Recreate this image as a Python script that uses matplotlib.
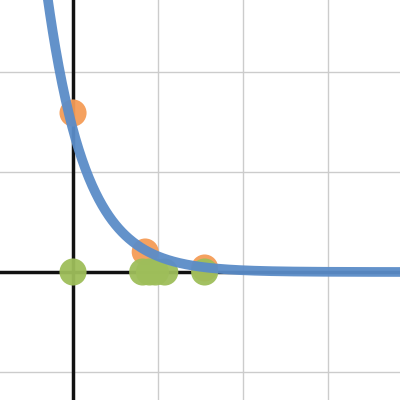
import numpy as np
import matplotlib
matplotlib.use("Agg")
import matplotlib.pyplot as plt

# data
orange_x = [0.0, 0.85, 1.55]
orange_y = [1.59, 0.2, 0.04]
green_x = [0.0, 0.82, 0.9, 0.97, 1.08, 1.55]
green_y = [0.0, 0.0, 0.0, 0.0, 0.0, 0.0]
curve_a = 1.42
curve_k = 2.2

fig = plt.figure(figsize=(4, 4), dpi=100)
ax = fig.add_axes([0, 0, 1, 1])
ax.set_xlim(-0.86, 3.85)
ax.set_ylim(-1.28, 2.72)

for gx in [1, 2, 3]:
    ax.axvline(gx, color="#cccccc", lw=1, zorder=0)
for gy in [-1, 1, 2]:
    ax.axhline(gy, color="#cccccc", lw=1, zorder=0)
ax.axvline(0, color="#111111", lw=2.5, zorder=1)
ax.axhline(0, color="#111111", lw=2.5, zorder=1)

ax.scatter(orange_x, orange_y, s=380, color="#f59c56", zorder=2, edgecolors="none", alpha=0.95)
ax.scatter(green_x, green_y, s=380, color="#9ebe5a", zorder=3, edgecolors="none", alpha=0.95)

xs = np.linspace(-0.86, 3.85, 600)
ax.plot(xs, curve_a * np.exp(-curve_k * xs), color="#5b8cc8", lw=7, zorder=4, alpha=0.95)

ax.set_xticks([]); ax.set_yticks([])
for s in ax.spines.values():
    s.set_visible(False)
fig.savefig("out.png", dpi=100)
